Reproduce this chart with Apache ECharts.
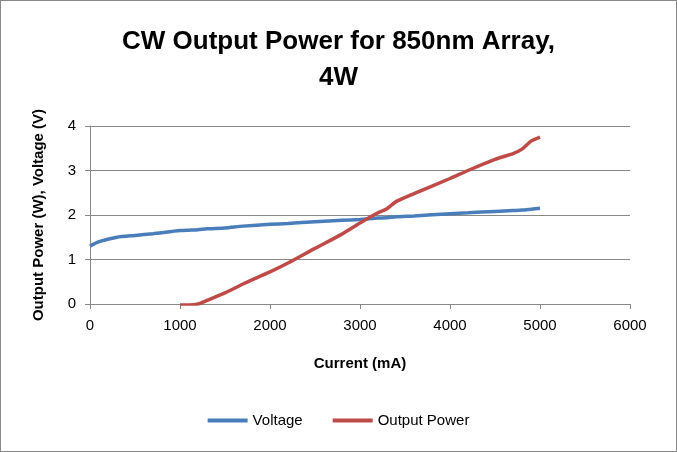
<!DOCTYPE html>
<html>
<head>
<meta charset="utf-8">
<script src="https://cdn.jsdelivr.net/npm/echarts@6/dist/echarts.min.js"></script>
<style>
  html, body { margin: 0; padding: 0; background: #fff; }
  #chart { width: 675px; height: 450px; border: 1px solid #888; }
</style>
</head>
<body>
<div id="chart"></div>
<script>
const currentMA = [0, 100, 300, 500, 700, 1000, 1100, 1200, 1300, 1500, 1700, 2000, 2200, 2500, 2800, 3000, 3200, 3300, 3400, 3600, 4000, 4200, 4500, 4700, 4800, 4900, 5000]
const voltage = [1.3, 1.4, 1.5, 1.54, 1.58, 1.65, 1.66, 1.67, 1.69, 1.71, 1.75, 1.79, 1.81, 1.85, 1.88, 1.9, 1.93, 1.94, 1.96, 1.98, 2.03, 2.05, 2.08, 2.1, 2.11, 2.13, 2.15]
const powerStart = 5 // output power is only drawn from 1000 mA on
const outputPower = [null, null, null, null, null, -0.02, -0.02, 0.0, 0.08, 0.25, 0.45, 0.72, 0.92, 1.25, 1.57, 1.82, 2.05, 2.14, 2.3, 2.48, 2.82, 3.0, 3.25, 3.38, 3.48, 3.66, 3.75]

const chart = echarts.init(document.getElementById('chart'))
const font = 'Liberation Sans, Arial, sans-serif'

const option = {
  animation: false,
  title: {
    text: 'CW Output Power for 850nm Array,\n4W',
    left: 'center',
    top: 18,
    textStyle: { fontSize: 26, fontWeight: 'bold', fontFamily: font, color: '#000', lineHeight: 36 }
  },
  legend: {
    bottom: 18,
    itemWidth: 40,
    itemGap: 30,
    icon: 'rect',
    itemHeight: 4,
    textStyle: { fontSize: 15, fontFamily: font, color: '#000' },
    data: ['Voltage', 'Output Power']
  },
  grid: { left: 89, right: 46, top: 125, bottom: 147 },
  xAxis: {
    type: 'value',
    min: 0,
    max: 6000,
    interval: 1000,
    name: 'Current (mA)',
    nameLocation: 'middle',
    nameGap: 52,
    nameTextStyle: { fontSize: 15, fontWeight: 'bold', fontFamily: font, color: '#000' },
    axisLine: { lineStyle: { color: '#888' } },
    axisTick: { show: true, length: 5, lineStyle: { color: '#888' } },
    axisLabel: { fontSize: 15, fontFamily: font, color: '#000', margin: 14, formatter: v => String(v) },
    splitLine: { show: false }
  },
  yAxis: {
    type: 'value',
    min: 0,
    max: 4,
    interval: 1,
    name: 'Output Power (W), Voltage (V)',
    nameLocation: 'middle',
    nameGap: 44,
    nameTextStyle: { fontSize: 15, fontWeight: 'bold', fontFamily: font, color: '#000' },
    axisLine: { show: true, lineStyle: { color: '#888' } },
    axisTick: { show: true, length: 5, lineStyle: { color: '#888' } },
    axisLabel: { fontSize: 15, fontFamily: font, color: '#000', margin: 14 },
    splitLine: { lineStyle: { color: '#888' } }
  },
  series: [
    {
      name: 'Voltage',
      type: 'line',
      showSymbol: false,
      smooth: 0.2,
      color: '#4A7EBB',
      lineStyle: { width: 3.5 },
      data: currentMA.map((c, i) => [c, voltage[i]])
    },
    {
      name: 'Output Power',
      type: 'line',
      showSymbol: false,
      smooth: 0.2,
      color: '#BE4B48',
      lineStyle: { width: 3.5 },
      data: currentMA.slice(powerStart).map((c, i) => [c, outputPower[i + powerStart]])
    }
  ]
}
chart.setOption(option)
</script>
</body>
</html>
